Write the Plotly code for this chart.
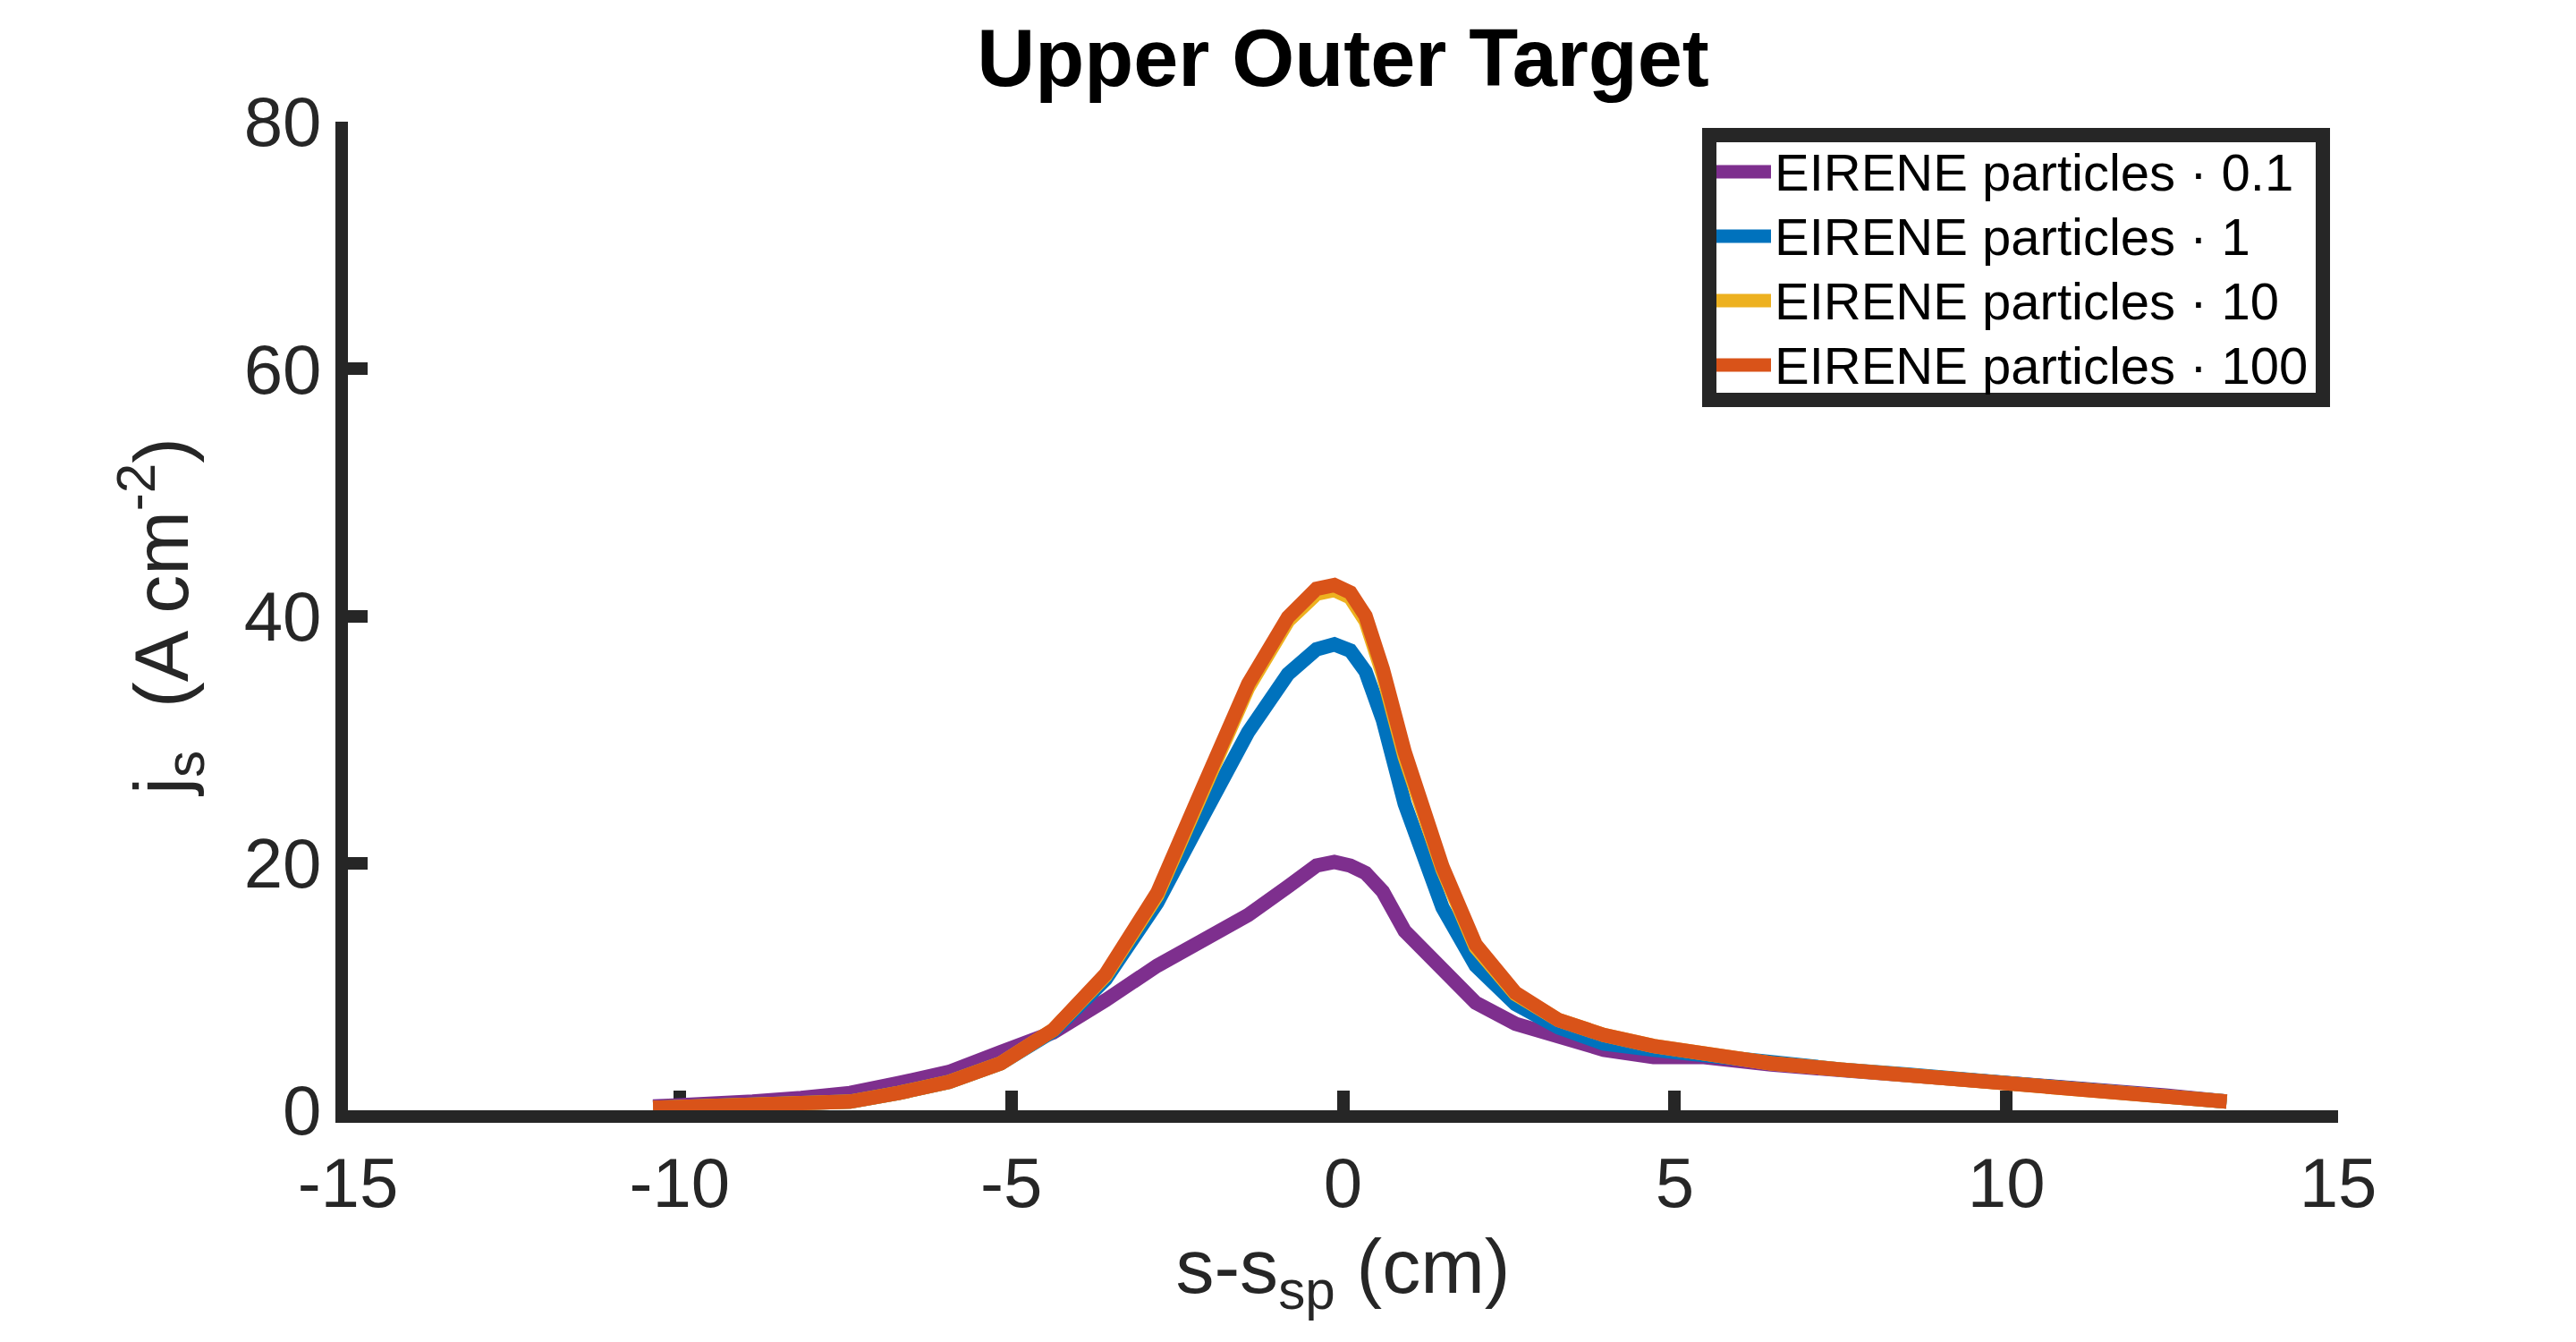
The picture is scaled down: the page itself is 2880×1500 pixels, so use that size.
import plotly.graph_objects as go

# s - s_sp grid (cm), shared by all runs
s_pos = [-10.4, -9.65, -8.9, -8.17, -7.43, -6.7, -5.94, -5.16, -4.37, -3.58,
         -2.80, -2.13, -1.43, -0.83, -0.40, -0.13, 0.11, 0.34, 0.60, 0.93,
         1.50, 2.00, 2.60, 3.25, 3.93, 4.68, 5.44, 6.45, 7.50, 8.50,
         9.50, 10.50, 11.50, 12.40, 13.32]

# j_s (A cm^-2) for each EIRENE particle multiplier
js_01 = [0.3, 0.4, 0.7, 1.0, 1.4, 2.2, 3.1, 4.7, 6.3, 8.9,
         11.7, 13.7, 15.8, 18.1, 19.8, 20.1, 19.8, 19.2, 17.7, 14.5,
         11.3, 8.7, 7.0, 5.9, 4.9, 4.3, 4.3, 3.7, 3.3, 2.9,
         2.5, 2.1, 1.7, 1.2, 0.7]
js_1 = [0.2, 0.3, 0.4, 0.5, 0.7, 1.4, 2.3, 3.8, 6.4, 10.6,
        16.8, 23.6, 30.6, 35.3, 37.3, 37.7, 37.2, 35.5, 31.6, 24.8,
        16.4, 11.7, 8.6, 6.7, 5.4, 4.9, 4.4, 3.8, 3.3, 2.9,
        2.5, 2.1, 1.7, 1.2, 0.7]
js_10 = [0.2, 0.3, 0.4, 0.5, 0.7, 1.4, 2.3, 3.8, 6.5, 10.9,
         17.4, 25.6, 34.2, 39.6, 41.8, 42.1, 41.5, 39.6, 35.3, 28.6,
         19.5, 13.2, 9.4, 7.3, 6.1, 5.2, 4.5, 3.8, 3.3, 2.9,
         2.5, 2.1, 1.7, 1.2, 0.7]
js_100 = [0.2, 0.3, 0.4, 0.5, 0.7, 1.4, 2.3, 3.8, 6.5, 11.0,
          17.6, 25.9, 34.5, 39.9, 42.2, 42.5, 41.9, 40.0, 35.7, 29.0,
          19.7, 13.4, 9.5, 7.3, 6.1, 5.2, 4.5, 3.8, 3.3, 2.9,
          2.5, 2.1, 1.7, 1.2, 0.7]

names = ["EIRENE particles \u00b7 0.1", "EIRENE particles \u00b7 1",
         "EIRENE particles \u00b7 10", "EIRENE particles \u00b7 100"]
colors = ["#7E2F8E", "#0072BD", "#EDB120", "#D95319"]

x_ticks = [-15, -10, -5, 0, 5, 10, 15]
x_tick_labels = ["-15", "-10", "-5", "0", "5", "10", "15"]
y_ticks = [0, 20, 40, 60, 80]
y_tick_labels = ["0", "20", "40", "60", "80"]

axis_col = "#262626"
fnt = "Liberation Sans, Arial, Helvetica, sans-serif"

fig = go.Figure()
for ys, name, col in zip([js_01, js_1, js_10, js_100], names, colors):
    fig.add_trace(go.Scatter(x=s_pos, y=ys, mode="lines", name=name,
                             line=dict(color=col, width=16),
                             showlegend=False))

# boxed legend in the upper right (paper coords of the plot area)
L, R, T, B = 381, 2606, 128, 1233
W, H = R - L, B - T
def px(X):
    return (X - L) / W
def py(Y):
    return (B - Y) / H

fig.add_shape(type="rect", xref="paper", yref="paper",
              x0=px(1903), x1=px(2589), y0=py(439), y1=py(143),
              line=dict(color=axis_col, width=16), fillcolor="white",
              layer="above")
for i, (name, col) in enumerate(zip(names, colors)):
    yc = py(184 + 72 * i)
    fig.add_shape(type="line", xref="paper", yref="paper",
                  x0=px(1911), x1=px(1972), y0=yc, y1=yc,
                  line=dict(color=col, width=15), layer="above")
    fig.add_annotation(xref="paper", yref="paper", x=px(1974), y=yc,
                       xanchor="left", yanchor="middle", text=name,
                       showarrow=False,
                       font=dict(size=58, color="black", family=fnt))

fig.update_layout(
    width=2880, height=1500,
    margin=dict(l=L, r=2880 - R, t=T, b=1500 - B),
    paper_bgcolor="white", plot_bgcolor="white",
    font=dict(family=fnt, size=78, color=axis_col),
    title=dict(text="<b>Upper Outer Target</b>", x=0.5, xref="paper",
               xanchor="center", y=1 - 56 / 1500, yref="container",
               yanchor="middle", font=dict(size=90, color="black")),
    showlegend=False,
)
fig.update_xaxes(range=[-15, 15], tickvals=x_ticks, ticktext=x_tick_labels,
                 showline=True, linecolor=axis_col, linewidth=14,
                 ticks="inside", ticklen=22, tickwidth=14, tickcolor=axis_col,
                 showgrid=False, zeroline=False, layer="below traces",
                 title=dict(text="s-s<sub>sp</sub> (cm)", font=dict(size=86),
                            standoff=26))
fig.update_yaxes(range=[0, 80], tickvals=y_ticks, ticktext=y_tick_labels,
                 showline=True, linecolor=axis_col, linewidth=14,
                 ticks="inside", ticklen=22, tickwidth=14, tickcolor=axis_col,
                 showgrid=False, zeroline=False, layer="below traces",
                 title=dict(text="j<sub>s</sub>\u00a0 (A cm<sup>-2</sup>)",
                            font=dict(size=86), standoff=40))

fig.write_html("out.html")
